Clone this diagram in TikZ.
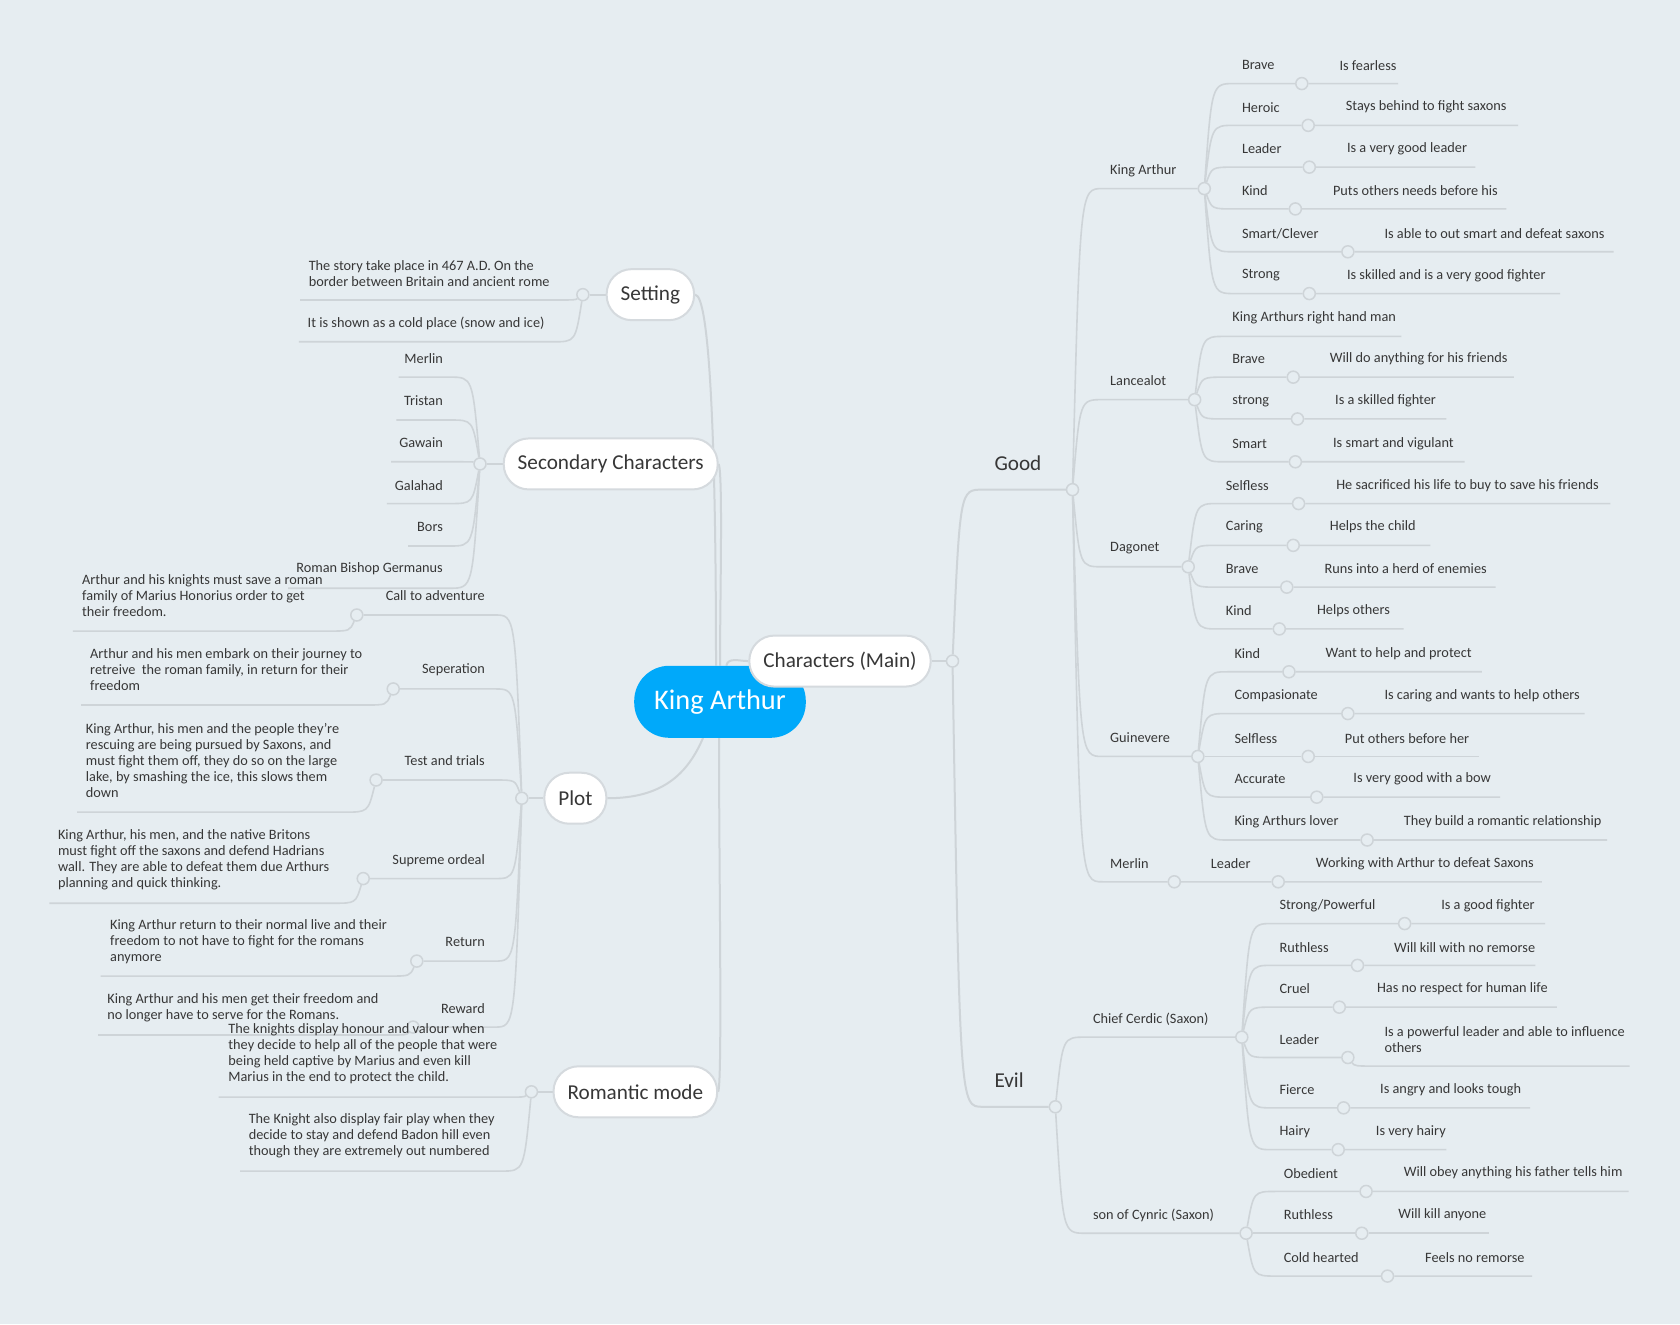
\documentclass[tikz,border=0pt]{standalone}
\usepackage{fontspec}
\setmainfont{Carlito}
\usetikzlibrary{calc}
\definecolor{paper}{RGB}{230,237,241}
\definecolor{wire}{RGB}{206,212,216}
\definecolor{rim}{RGB}{213,218,222}
\definecolor{ink}{RGB}{55,55,55}
\definecolor{sky}{RGB}{0,169,250}
\pgfdeclarelayer{under}
\pgfsetlayers{under,main}

\begin{document}
\begin{tikzpicture}[x=1.0714pt,y=-1.0714pt,
    root/.style={rectangle,rounded corners=35pt,fill=sky,minimum height=72pt,inner xsep=20pt,
      font=\fontsize{28.4}{32}\selectfont,text=white},
    topic/.style={rectangle,rounded corners=25pt,draw=rim,line width=2pt,fill=white,
      minimum height=51pt,inner xsep=14pt,font=\fontsize{21.2}{24}\selectfont,text=ink},
    side/.style={anchor=west,inner sep=0pt,font=\fontsize{21.2}{24}\selectfont,text=ink},
    txt/.style={anchor=west,inner sep=0pt,align=left,font=\fontsize{14.3}{16}\selectfont,text=ink},
    rtxt/.style={txt,anchor=east,align=right},
    dot/.style={circle,draw=wire,line width=1.5pt,fill=paper,minimum size=12pt,inner sep=0pt},
    trunk/.style={draw=wire,line width=2pt},
    link/.style={draw=wire,line width=1.6pt},
    branch/.style={to path={.. controls ($(\tikztostart |- \tikztotarget)+(#1/4,0)$)
      .. ($(\tikztostart |- \tikztotarget)+(#1,0)$) -- (\tikztotarget)}},
    branch/.default=28]
  % bounding box
  \useasboundingbox (0,0) rectangle (1568,1236);

  % Main topics
  \node[root] (king) at (672,655) {King Arthur};
  \node[topic] (chars) at (784,617) {Characters (Main)};
  \node[topic] (setting) at (607,275) {Setting};
  \node[topic] (second) at (570,433) {Secondary Characters};
  \node[topic] (plot) at (537,745) {Plot};
  \node[topic] (romance) at (593,1019) {Romantic mode};

  % Junctions of the topics
  \node[dot] (setJ) at (544,275) {};
  \node[dot] (secJ) at (448,433) {};
  \node[dot] (plotJ) at (487,745) {};
  \node[dot] (romJ) at (496,1019) {};
  \node[dot] (charJ) at (889,617) {};

  % Good and Evil
  \node[side] (good) at (928,432) {Good};
  \node[dot] (goodJ) at (1001,457) {};
  \node[side] (evil) at (928,1008) {Evil};
  \node[dot] (evilJ) at (985,1033) {};

  % Characters
  \node[txt] (kaL) at (1036,159) {King Arthur}; \node[dot] (kaJ) at (1124,176) {};
  \node[txt] (lanL) at (1036,355) {Lancealot}; \node[dot] (lanJ) at (1115,373) {};
  \node[txt] (dagL) at (1036,512) {Dagonet}; \node[dot] (dagJ) at (1109,529) {};
  \node[txt] (guiL) at (1036,688) {Guinevere}; \node[dot] (guiJ) at (1118,706) {};
  \node[txt] (merL) at (1036,806) {Merlin}; \node[dot] (merJ) at (1096,823) {};
  \node[txt] (cerL) at (1020,951) {Chief Cerdic (Saxon)}; \node[dot] (cerJ) at (1159,968) {};
  \node[txt] (cynL) at (1020,1134) {son of Cynric (Saxon)}; \node[dot] (cynJ) at (1163,1151) {};

  % King Arthur
  \node[txt] (ka1) at (1159,61) {Brave}; \node[dot] (ka1J) at (1215,78) {};
  \node[txt] (ka1v) at (1250,61) {Is fearless}; \coordinate (ka1E) at (1305,78);
  \node[txt] (ka2) at (1159,100) {Heroic}; \node[dot] (ka2J) at (1221,117) {};
  \node[txt] (ka2v) at (1256,100) {Stays behind to fight saxons}; \coordinate (ka2E) at (1417,117);
  \node[txt] (ka3) at (1159,139) {Leader}; \node[dot] (ka3J) at (1222,156) {};
  \node[txt] (ka3v) at (1257,139) {Is a very good leader}; \coordinate (ka3E) at (1377,156);
  \node[txt] (ka4) at (1159,178) {Kind}; \node[dot] (ka4J) at (1209,195) {};
  \node[txt] (ka4v) at (1244,178) {Puts others needs before his}; \coordinate (ka4E) at (1406,195);
  \node[txt] (ka5) at (1159,218) {Smart/Clever}; \node[dot] (ka5J) at (1258,235) {};
  \node[txt] (ka5v) at (1292,218) {Is able to out smart and defeat saxons}; \coordinate (ka5E) at (1506,235);
  \node[txt] (ka6) at (1159,257) {Strong}; \node[dot] (ka6J) at (1222,274) {};
  \node[txt] (ka6v) at (1257,257) {Is skilled and is a very good fighter}; \coordinate (ka6E) at (1456,274);

  % Lancealot
  \node[txt] (lan0) at (1150,297) {King Arthurs right hand man}; \coordinate (lan0E) at (1308,314);
  \node[txt] (lan1) at (1150,335) {Brave}; \node[dot] (lan1J) at (1207,352) {};
  \node[txt] (lan1v) at (1241,335) {Will do anything for his friends}; \coordinate (lan1E) at (1413,352);
  \node[txt] (lan2) at (1150,374) {strong}; \node[dot] (lan2J) at (1211,391) {};
  \node[txt] (lan2v) at (1246,374) {Is a skilled fighter}; \coordinate (lan2E) at (1350,391);
  \node[txt] (lan3) at (1150,414) {Smart}; \node[dot] (lan3J) at (1209,431) {};
  \node[txt] (lan3v) at (1244,414) {Is smart and vigulant}; \coordinate (lan3E) at (1367,431);

  % Dagonet
  \node[txt] (dag1) at (1144,453) {Selfless}; \node[dot] (dag1J) at (1212,470) {};
  \node[txt] (dag1v) at (1247,453) {He sacrificed his life to buy to save his friends}; \coordinate (dag1E) at (1503,470);
  \node[txt] (dag2) at (1144,492) {Caring}; \node[dot] (dag2J) at (1207,509) {};
  \node[txt] (dag2v) at (1241,492) {Helps the child}; \coordinate (dag2E) at (1335,509);
  \node[txt] (dag3) at (1144,531) {Brave}; \node[dot] (dag3J) at (1201,548) {};
  \node[txt] (dag3v) at (1236,531) {Runs into a herd of enemies}; \coordinate (dag3E) at (1396,548);
  \node[txt] (dag4) at (1144,570) {Kind}; \node[dot] (dag4J) at (1194,587) {};
  \node[txt] (dag4v) at (1229,570) {Helps others}; \coordinate (dag4E) at (1310,587);

  % Guinevere
  \node[txt] (gui1) at (1152,610) {Kind}; \node[dot] (gui1J) at (1203,627) {};
  \node[txt] (gui1v) at (1237,610) {Want to help and protect}; \coordinate (gui1E) at (1383,627);
  \node[txt] (gui2) at (1152,649) {Compasionate}; \node[dot] (gui2J) at (1258,666) {};
  \node[txt] (gui2v) at (1292,649) {Is caring and wants to help others}; \coordinate (gui2E) at (1479,666);
  \node[txt] (gui3) at (1152,689) {Selfless}; \node[dot] (gui3J) at (1221,706) {};
  \node[txt] (gui3v) at (1255,689) {Put others before her}; \coordinate (gui3E) at (1380,706);
  \node[txt] (gui4) at (1152,727) {Accurate}; \node[dot] (gui4J) at (1229,744) {};
  \node[txt] (gui4v) at (1263,727) {Is very good with a bow}; \coordinate (gui4E) at (1400,744);
  \node[txt] (gui5) at (1152,767) {King Arthurs lover}; \node[dot] (gui5J) at (1276,784) {};
  \node[txt] (gui5v) at (1310,767) {They build a romantic relationship}; \coordinate (gui5E) at (1500,784);

  % Merlin
  \node[txt] (mer1) at (1130,806) {Leader}; \node[dot] (mer1J) at (1193,823) {};
  \node[txt] (mer1v) at (1228,806) {Working with Arthur to defeat Saxons}; \coordinate (mer1E) at (1439,823);

  % Chief Cerdic
  \node[txt] (cer1) at (1194,845) {Strong/Powerful}; \node[dot] (cer1J) at (1311,862) {};
  \node[txt] (cer1v) at (1345,845) {Is a good fighter}; \coordinate (cer1E) at (1442,862);
  \node[txt] (cer2) at (1194,884) {Ruthless}; \node[dot] (cer2J) at (1267,901) {};
  \node[txt] (cer2v) at (1301,884) {Will kill with no remorse}; \coordinate (cer2E) at (1433,901);
  \node[txt] (cer3) at (1194,923) {Cruel}; \node[dot] (cer3J) at (1250,940) {};
  \node[txt] (cer3v) at (1285,923) {Has no respect for human life}; \coordinate (cer3E) at (1453,940);
  \node[txt] (cer4) at (1194,970) {Leader}; \node[dot] (cer4J) at (1258,987) {};
  \node[txt] (cer4v) at (1292,970.5) {Is a powerful leader and able to influence\\others}; \coordinate (cer4E) at (1521,995);
  \node[txt] (cer5) at (1194,1017) {Fierce}; \node[dot] (cer5J) at (1254,1034) {};
  \node[txt] (cer5v) at (1288,1017) {Is angry and looks tough}; \coordinate (cer5E) at (1428,1034);
  \node[txt] (cer6) at (1194,1056) {Hairy}; \node[dot] (cer6J) at (1249,1073) {};
  \node[txt] (cer6v) at (1284,1056) {Is very hairy}; \coordinate (cer6E) at (1350,1073);

  % son of Cynric
  \node[txt] (cyn1) at (1198,1095) {Obedient}; \node[dot] (cyn1J) at (1275,1112) {};
  \node[txt] (cyn1v) at (1310,1095) {Will obey anything his father tells him}; \coordinate (cyn1E) at (1520,1112);
  \node[txt] (cyn2) at (1198,1134) {Ruthless}; \node[dot] (cyn2J) at (1271,1151) {};
  \node[txt] (cyn2v) at (1305,1134) {Will kill anyone}; \coordinate (cyn2E) at (1390,1151);
  \node[txt] (cyn3) at (1198,1174) {Cold hearted}; \node[dot] (cyn3J) at (1295,1191) {};
  \node[txt] (cyn3v) at (1330,1174) {Feels no remorse}; \coordinate (cyn3E) at (1430,1191);

  % Setting
  \node[txt] (set1) at (288,255) {The story take place in 467 A.D. On the\\border between Britain and ancient rome};
  \coordinate (set1E) at (280,280);
  \node[txt] (set2) at (287,301.5) {It is shown as a cold place (snow and ice)};
  \coordinate (set2E) at (279,319);

  % Secondary characters
  \node[rtxt] (sec1) at (413.5,335) {Merlin}; \coordinate (sec1E) at (372,352);
  \node[rtxt] (sec2) at (413.5,374) {Tristan}; \coordinate (sec2E) at (370,392);
  \node[rtxt] (sec3) at (413.5,413.5) {Gawain}; \coordinate (sec3E) at (365,431);
  \node[rtxt] (sec4) at (413.5,453) {Galahad}; \coordinate (sec4E) at (361,470);
  \node[rtxt] (sec5) at (413.5,492) {Bors}; \coordinate (sec5E) at (381,509.6);
  \node[rtxt] (sec6) at (413.5,531) {Roman Bishop Germanus}; \coordinate (sec6E) at (269,549);

  % Plot
  \node[rtxt] (p1) at (452.7,556) {Call to adventure}; \node[dot] (p1J) at (333,574) {};
  \node[txt] (p1v) at (76.5,556) {Arthur and his knights must save a roman\\family of Marius Honorius order to get\\their freedom.};
  \coordinate (p1E) at (68,589);
  \node[rtxt] (p2) at (452.7,625) {Seperation}; \node[dot] (p2J) at (367,643) {};
  \node[txt] (p2v) at (84,625) {Arthur and his men embark on their journey to\\retreive~ the roman family, in return for their\\freedom};
  \coordinate (p2E) at (75.6,658);
  \node[rtxt] (p3) at (452.7,710) {Test and trials}; \node[dot] (p3J) at (351,728) {};
  \node[txt] (p3v) at (80,710) {King Arthur, his men and the people they're\\rescuing are being pursued by Saxons, and\\must fight them off, they do so on the large\\lake, by smashing the ice, this slows them\\down};
  \coordinate (p3E) at (72,758);
  \node[rtxt] (p4) at (452.7,803) {Supreme ordeal}; \node[dot] (p4J) at (339,820) {};
  \node[txt] (p4v) at (54,802) {King Arthur, his men, and the native Britons\\must fight off the saxons and defend Hadrians\\wall. They are able to defeat them due Arthurs\\planning and quick thinking.};
  \coordinate (p4E) at (46,843);
  \node[rtxt] (p5) at (452.7,879) {Return}; \node[dot] (p5J) at (389,897) {};
  \node[txt] (p5v) at (102.7,879) {King Arthur return to their normal live and their\\freedom to not have to fight for the romans\\anymore};
  \coordinate (p5E) at (94,911);
  \node[rtxt] (p6) at (452.7,941) {Reward}; \node[dot] (p6J) at (385.5,958.6) {};
  \node[txt] (p6v) at (100,940.5) {King Arthur and his men get their freedom and\\no longer have to serve for the Romans.};
  \coordinate (p6E) at (91.5,966);

  % Romantic mode
  \node[txt] (rom1) at (213,983) {The knights display honour and valour when\\they decide to help all of the people that were\\being held captive by Marius and even kill\\Marius in the end to protect the child.};
  \coordinate (rom1E) at (204,1024);
  \node[txt] (rom2) at (232,1060) {The Knight also display fair play when they\\decide to stay and defend Badon hill even\\though they are extremely out numbered};
  \coordinate (rom2E) at (224,1093);

  \begin{pgfonlayer}{under}
    % background
    \fill[paper] (0,0) rectangle (1568,1236);
    % Main branches
    \draw[trunk] (king) to[out=80,in=180] (chars);
    \draw[trunk] (setting.east) .. controls +(14,0) and +(0,-200) .. ([xshift=-4pt]king.north);
    \draw[trunk] (second.east) .. controls +(4,10) and +(0,-60) .. (king.north);
    \draw[trunk] (plot.east) .. controls +(50,0) and +(-15,35) .. ([xshift=-17pt]king.south);
    \draw[trunk] (romance.east) .. controls +(4,-10) and +(0,120) .. ([xshift=-1pt]king.south);
    \draw[trunk] (setting) -- (setJ);
    \draw[trunk] (second) -- (secJ);
    \draw[trunk] (plot) -- (plotJ);
    \draw[trunk] (romance) -- (romJ);
    \draw[trunk] (chars) -- (charJ);
    \draw[trunk] (charJ) to[branch] (goodJ);
    \draw[trunk] (charJ) to[branch] (evilJ);
    % Characters
    \draw[link] (goodJ) to[branch] (kaJ);
    \draw[link] (goodJ) to[branch] (lanJ);
    \draw[link] (goodJ) to[branch] (dagJ);
    \draw[link] (goodJ) to[branch] (guiJ);
    \draw[link] (goodJ) to[branch] (merJ) -- (mer1J) -- (mer1E);
    \draw[link] (evilJ) to[branch] (cerJ);
    \draw[link] (evilJ) to[branch] (cynJ);
    % Traits
    \draw[link] (kaJ) to[branch] (ka1J) -- (ka1E);
    \draw[link] (kaJ) to[branch] (ka2J) -- (ka2E);
    \draw[link] (kaJ) to[branch] (ka3J) -- (ka3E);
    \draw[link] (kaJ) to[branch] (ka4J) -- (ka4E);
    \draw[link] (kaJ) to[branch] (ka5J) -- (ka5E);
    \draw[link] (kaJ) to[branch] (ka6J) -- (ka6E);
    \draw[link] (lanJ) to[branch] (lan0E);
    \draw[link] (lanJ) to[branch] (lan1J) -- (lan1E);
    \draw[link] (lanJ) to[branch] (lan2J) -- (lan2E);
    \draw[link] (lanJ) to[branch] (lan3J) -- (lan3E);
    \draw[link] (dagJ) to[branch] (dag1J) -- (dag1E);
    \draw[link] (dagJ) to[branch] (dag2J) -- (dag2E);
    \draw[link] (dagJ) to[branch] (dag3J) -- (dag3E);
    \draw[link] (dagJ) to[branch] (dag4J) -- (dag4E);
    \draw[link] (guiJ) to[branch] (gui1J) -- (gui1E);
    \draw[link] (guiJ) to[branch] (gui2J) -- (gui2E);
    \draw[link] (guiJ) to[branch] (gui3J) -- (gui3E);
    \draw[link] (guiJ) to[branch] (gui4J) -- (gui4E);
    \draw[link] (guiJ) to[branch] (gui5J) -- (gui5E);
    \draw[link] (cerJ) to[branch] (cer1J) -- (cer1E);
    \draw[link] (cerJ) to[branch] (cer2J) -- (cer2E);
    \draw[link] (cerJ) to[branch] (cer3J) -- (cer3E);
    \draw[link] (cerJ) to[branch] (cer4J) to[branch=26] (cer4E);
    \draw[link] (cerJ) to[branch] (cer5J) -- (cer5E);
    \draw[link] (cerJ) to[branch] (cer6J) -- (cer6E);
    \draw[link] (cynJ) to[branch] (cyn1J) -- (cyn1E);
    \draw[link] (cynJ) to[branch] (cyn2J) -- (cyn2E);
    \draw[link] (cynJ) to[branch] (cyn3J) -- (cyn3E);
    % Left side
    \draw[link] (setJ) to[branch=-28] (set1E);
    \draw[link] (setJ) to[branch=-28] (set2E);
    \draw[link] (secJ) to[branch=-28] (sec1E);
    \draw[link] (secJ) to[branch=-28] (sec2E);
    \draw[link] (secJ) to[branch=-28] (sec3E);
    \draw[link] (secJ) to[branch=-28] (sec4E);
    \draw[link] (secJ) to[branch=-28] (sec5E);
    \draw[link] (secJ) to[branch=-28] (sec6E);
    \draw[link] (plotJ) to[branch=-25] (p1J) to[branch=-26] (p1E);
    \draw[link] (plotJ) to[branch=-25] (p2J) to[branch=-26] (p2E);
    \draw[link] (plotJ) to[branch=-25] (p3J) to[branch=-30] (p3E);
    \draw[link] (plotJ) to[branch=-25] (p4J) to[branch=-28] (p4E);
    \draw[link] (plotJ) to[branch=-25] (p5J) to[branch=-26] (p5E);
    \draw[link] (plotJ) to[branch=-25] (p6J) to[branch=-24] (p6E);
    \draw[link] (romJ) to[branch=-28] (rom1E);
    \draw[link] (romJ) to[branch=-28] (rom2E);
  \end{pgfonlayer}
\end{tikzpicture}
\end{document}
